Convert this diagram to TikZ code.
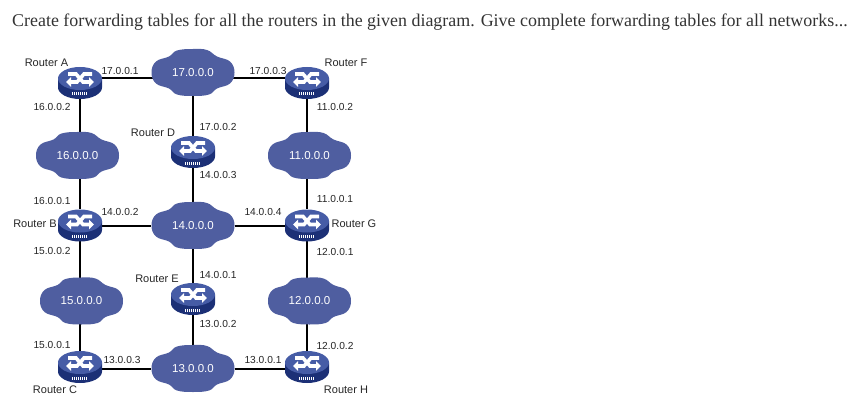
\documentclass[tikz,border=0pt]{standalone}
\usepackage{fontspec}
\setmainfont{Liberation Serif}
\newfontfamily\labelfont{Liberation Sans}
\usetikzlibrary{shapes.geometric,arrows.meta,calc,backgrounds}
\definecolor{cloudblue}{RGB}{79,94,160}
\definecolor{routertop}{RGB}{70,92,166}
\definecolor{routerdark}{RGB}{28,48,118}
\tikzset{
	net/.style={inner sep=0pt,minimum width=83pt,minimum height=47pt,text=white,font=\labelfont\fontsize{11.5}{12}\selectfont},
	lab/.style={inner sep=0pt,text=black!85,font=\labelfont\fontsize{10.2}{11}\selectfont},
	rlab/.style={lab,font=\labelfont\fontsize{11}{12}\selectfont},
	wire/.style={line width=2pt},
	flow/.style={white,line width=3.6pt,-{Triangle[length=5pt,width=9.5pt]}}
}
\newcommand{\netcloud}[3]{
	\fill[cloudblue,shift={(#2)}] plot[smooth cycle,tension=.7] coordinates {(-41.5,0) (-37,-11) (-24,-16) (-16,-22) (0,-23.5) (14,-22.5) (24,-16) (37,-11) (41.5,0) (37,11) (24,16) (16,22) (0,23.5) (-16,22) (-24,16) (-37,11)};
	\node[net] (#1) at (#2) {#3};
}
\newcommand{\router}[2]{
	\fill[routerdark] ($(#2)+(-22,0)$) -- ($(#2)+(-22,9)$) arc (180:360:22pt and 11.5pt) -- ($(#2)+(22,0)$) -- cycle;
	\node[ellipse,fill=routertop,minimum width=44pt,minimum height=23pt,inner sep=0pt] (#1) at (#2) {};
	\draw[flow] ($(#2)+(-12,-4.5)$) -- ($(#2)+(-4,-4.5)$) -- ($(#2)+(3,3.5)$) -- ($(#2)+(14,3.5)$);
	\draw[flow] ($(#2)+(12,-4.5)$) -- ($(#2)+(4,-4.5)$) -- ($(#2)+(-3,3.5)$) -- ($(#2)+(-14,3.5)$);
	\draw[white,line width=3pt,dash pattern=on 1pt off 1pt] ($(#2)+(-8,15.5)$) -- ($(#2)+(8,15.5)$);
}
\begin{document}
\begin{tikzpicture}[x=1pt,y=-1pt]
	\useasboundingbox (0,0) rectangle (851,417);
	\node[anchor=west,inner sep=0pt,text=black!80,font=\fontsize{17.93}{20}\selectfont] (title) at (12,22) {Create forwarding tables for all the routers in the given diagram. Give complete forwarding tables for all networks...};
	
	\netcloud{n17}{193,72.5}{17.0.0.0}
	\netcloud{n16}{77.5,155.5}{16.0.0.0}
	\netcloud{n11}{309.5,155.5}{11.0.0.0}
	\netcloud{n14}{193,225.5}{14.0.0.0}
	\netcloud{n15}{81.5,301}{15.0.0.0}
	\netcloud{n12}{309.5,301}{12.0.0.0}
	\netcloud{n13}{193,368.5}{13.0.0.0}
	
	\router{ra}{80,78.5} \router{rf}{307,78.5}
	\router{rd}{193,147.5}
	\router{rb}{80,221} \router{rg}{307,221}
	\router{re}{193,294.5}
	\router{rc}{80,362.5} \router{rh}{307,362.5}
	
	\begin{scope}[on background layer]
		\draw[wire] (ra) -- (ra -| n17) -- (rf);
		\draw[wire] (ra) -- (ra |- n16) -- (rb) -- (rb |- n15) -- (rc);
		\draw[wire] (rf) -- (rf |- n11) -- (rg) -- (rg |- n12) -- (rh);
		\draw[wire] (n17) -- (rd) -- (n14) -- (re) -- (n13);
		\draw[wire] (n14 -| rb) -- (n14) -- (n14 -| rg);
		\draw[wire] (n13 -| rc) -- (n13) -- (n13 -| rh);
	\end{scope}
	
	\node[rlab] (la) at (46.5,63) {Router A};
	\node[rlab] (lf) at (346,63) {Router F};
	\node[rlab] (ld) at (153,133) {Router D};
	\node[rlab] (lb) at (35,224) {Router B};
	\node[rlab] (lg) at (354,224) {Router G};
	\node[rlab] (le) at (157,279) {Router E};
	\node[rlab] (lc) at (55,390) {Router C};
	\node[rlab] (lh) at (346,390) {Router H};
	
	\node[lab] (a1) at (120,71) {17.0.0.1};
	\node[lab] (a2) at (52,107) {16.0.0.2};
	\node[lab] (a3) at (268,71) {17.0.0.3};
	\node[lab] (a4) at (335,107) {11.0.0.2};
	\node[lab] (a5) at (218,127) {17.0.0.2};
	\node[lab] (a6) at (218,175) {14.0.0.3};
	\node[lab] (a7) at (52,201) {16.0.0.1};
	\node[lab] (a8) at (120,212) {14.0.0.2};
	\node[lab] (a9) at (263,212) {14.0.0.4};
	\node[lab] (a10) at (335,199) {11.0.0.1};
	\node[lab] (a11) at (52,251) {15.0.0.2};
	\node[lab] (a12) at (335,252) {12.0.0.1};
	\node[lab] (a13) at (218,275) {14.0.0.1};
	\node[lab] (a14) at (218,324) {13.0.0.2};
	\node[lab] (a15) at (52,345) {15.0.0.1};
	\node[lab] (a16) at (122,360) {13.0.0.3};
	\node[lab] (a17) at (263,360) {13.0.0.1};
	\node[lab] (a18) at (335,346) {12.0.0.2};
\end{tikzpicture}
\end{document}
